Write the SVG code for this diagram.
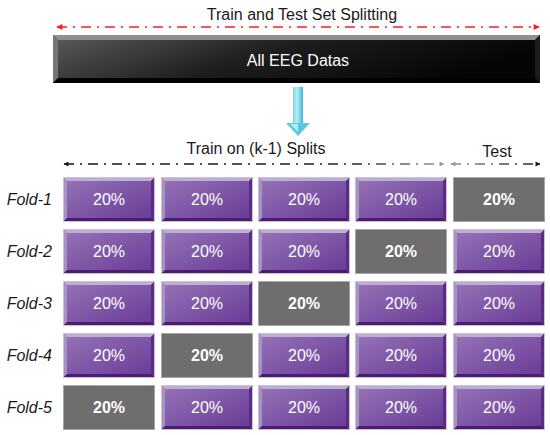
<svg xmlns="http://www.w3.org/2000/svg" xmlns:xlink="http://www.w3.org/1999/xlink" width="550" height="435" viewBox="0 0 550 435">
<style>
  text { font-family: "Liberation Sans", Arial, Helvetica, sans-serif; }
  .title { font-size: 16px; fill: #1a1a1a; text-anchor: middle; }
  .bar-label { font-size: 16px; fill: #ffffff; text-anchor: middle; }
  .fold { font-size: 16px; font-style: italic; fill: #1a1a1a; text-anchor: end; }
  .pct { font-size: 16px; fill: #ffffff; text-anchor: middle; }
  .pct-test { font-size: 16px; font-weight: bold; fill: #ffffff; text-anchor: middle; }
</style>
<defs>
  <linearGradient id="purpleFace" x1="0" y1="0" x2="1" y2="1">
    <stop offset="0" stop-color="#9676b7"/>
    <stop offset="1" stop-color="#673896"/>
  </linearGradient>
  <linearGradient id="barFace" x1="0" y1="0" x2="1" y2="0.3">
    <stop offset="0" stop-color="#5c5c5c"/>
    <stop offset="0.5" stop-color="#1e1e1e"/>
    <stop offset="1" stop-color="#050505"/>
  </linearGradient>
  <linearGradient id="cyanShaft" x1="0" y1="0" x2="1" y2="0">
    <stop offset="0" stop-color="#7fd3e5"/>
    <stop offset="0.4" stop-color="#b9eef7"/>
    <stop offset="1" stop-color="#3fb6d2"/>
  </linearGradient>
  <linearGradient id="trainLine" gradientUnits="userSpaceOnUse" x1="64" y1="0" x2="444" y2="0">
    <stop offset="0" stop-color="#111"/>
    <stop offset="0.75" stop-color="#222"/>
    <stop offset="1" stop-color="#999"/>
  </linearGradient>
  <linearGradient id="testLine" gradientUnits="userSpaceOnUse" x1="451" y1="0" x2="540" y2="0">
    <stop offset="0" stop-color="#999"/>
    <stop offset="1" stop-color="#222"/>
  </linearGradient>
  <marker id="redHead" viewBox="0 0 10 10" refX="9" refY="5" markerWidth="8" markerHeight="6" markerUnits="userSpaceOnUse" orient="auto-start-reverse">
    <path d="M0,0 L10,5 L0,10 z" fill="#ff1a1a"/>
  </marker>
  <marker id="blackHead" viewBox="0 0 10 10" refX="9" refY="5" markerWidth="8" markerHeight="5" markerUnits="userSpaceOnUse" orient="auto-start-reverse">
    <path d="M0,0 L10,5 L0,10 z" fill="#1a1a1a"/>
  </marker>
  <marker id="grayHead" viewBox="0 0 10 10" refX="9" refY="5" markerWidth="8" markerHeight="5" markerUnits="userSpaceOnUse" orient="auto-start-reverse">
    <path d="M0,0 L10,5 L0,10 z" fill="#999"/>
  </marker>
  <g id="purpleCell">
    <rect x="0" y="0" width="92" height="45" fill="url(#purpleFace)"/>
    <polygon points="0,0 92,0 88,4 4,4" fill="#bfaed2"/>
    <polygon points="0,0 4,4 4,41 0,45" fill="#a892c4"/>
    <polygon points="92,0 92,45 88,41 88,4" fill="#5a2c83"/>
    <polygon points="0,45 92,45 88,41 4,41" fill="#4b1d72"/>
    <rect x="0.5" y="0.5" width="91" height="44" fill="none" stroke="#cdbfdc" stroke-width="1"/>
  </g>
  <g id="grayCell">
    <rect x="0" y="0" width="92" height="45" fill="#6e6e6e"/>
    <rect x="0.5" y="0.5" width="91" height="44" fill="none" stroke="#a6a6a6" stroke-width="1"/>
  </g>
</defs>

<rect width="550" height="435" fill="#ffffff"/>

<text class="title" x="302" y="20">Train and Test Set Splitting</text>

<g id="all-eeg-datas">
  <rect x="53" y="35" width="487" height="48" fill="url(#barFace)"/>
  <polygon points="53,35 540,35 535,40 58,40" fill="#8f8f8f"/>
  <polygon points="53,35 58,40 58,78 53,83" fill="#767676"/>
  <polygon points="540,35 540,83 535,78 535,40" fill="#1c1c1c"/>
  <polygon points="53,83 540,83 535,78 58,78" fill="#000000"/>
  <text class="bar-label" x="298" y="66">All EEG Datas</text>
</g>

<g id="connectors">
  <line x1="57" y1="27" x2="539" y2="27" stroke="#ff1a1a" stroke-width="1.5" stroke-dasharray="10 6 2 6" marker-start="url(#redHead)" marker-end="url(#redHead)"/>
  <g id="down-arrow">
    <rect x="293" y="87" width="10" height="37" fill="url(#cyanShaft)"/>
    <polygon points="286,123 310,123 298,136" fill="#5cc7de"/>
    <polygon points="290,124 298,124 298,132" fill="#b2ebf5"/>
  </g>
  <line x1="64" y1="164" x2="444" y2="164" stroke="url(#trainLine)" stroke-width="1.5" stroke-dasharray="10 6 2 6" marker-start="url(#blackHead)" marker-end="url(#grayHead)"/>
  <line x1="451" y1="164" x2="540" y2="164" stroke="url(#testLine)" stroke-width="1.5" stroke-dasharray="10 6 2 6" marker-start="url(#grayHead)" marker-end="url(#blackHead)"/>
</g>

<text class="title" x="256" y="154">Train on (k-1) Splits</text>
<text class="title" x="497" y="157">Test</text>

<text class="fold" x="52" y="205">Fold-1</text>
<text class="fold" x="52" y="257">Fold-2</text>
<text class="fold" x="52" y="309">Fold-3</text>
<text class="fold" x="52" y="361">Fold-4</text>
<text class="fold" x="52" y="413">Fold-5</text>

<!-- Fold 1 -->
<g id="f1c1"><use href="#purpleCell" x="63" y="177"/><text class="pct" x="109" y="205">20%</text></g>
<g id="f1c2"><use href="#purpleCell" x="161" y="177"/><text class="pct" x="207" y="205">20%</text></g>
<g id="f1c3"><use href="#purpleCell" x="258" y="177"/><text class="pct" x="304" y="205">20%</text></g>
<g id="f1c4"><use href="#purpleCell" x="355" y="177"/><text class="pct" x="401" y="205">20%</text></g>
<g id="f1c5"><use href="#grayCell" x="453" y="177"/><text class="pct-test" x="499" y="205">20%</text></g>

<!-- Fold 2 -->
<g id="f2c1"><use href="#purpleCell" x="63" y="229"/><text class="pct" x="109" y="257">20%</text></g>
<g id="f2c2"><use href="#purpleCell" x="161" y="229"/><text class="pct" x="207" y="257">20%</text></g>
<g id="f2c3"><use href="#purpleCell" x="258" y="229"/><text class="pct" x="304" y="257">20%</text></g>
<g id="f2c4"><use href="#grayCell" x="355" y="229"/><text class="pct-test" x="401" y="257">20%</text></g>
<g id="f2c5"><use href="#purpleCell" x="453" y="229"/><text class="pct" x="499" y="257">20%</text></g>

<!-- Fold 3 -->
<g id="f3c1"><use href="#purpleCell" x="63" y="281"/><text class="pct" x="109" y="309">20%</text></g>
<g id="f3c2"><use href="#purpleCell" x="161" y="281"/><text class="pct" x="207" y="309">20%</text></g>
<g id="f3c3"><use href="#grayCell" x="258" y="281"/><text class="pct-test" x="304" y="309">20%</text></g>
<g id="f3c4"><use href="#purpleCell" x="355" y="281"/><text class="pct" x="401" y="309">20%</text></g>
<g id="f3c5"><use href="#purpleCell" x="453" y="281"/><text class="pct" x="499" y="309">20%</text></g>

<!-- Fold 4 -->
<g id="f4c1"><use href="#purpleCell" x="63" y="333"/><text class="pct" x="109" y="361">20%</text></g>
<g id="f4c2"><use href="#grayCell" x="161" y="333"/><text class="pct-test" x="207" y="361">20%</text></g>
<g id="f4c3"><use href="#purpleCell" x="258" y="333"/><text class="pct" x="304" y="361">20%</text></g>
<g id="f4c4"><use href="#purpleCell" x="355" y="333"/><text class="pct" x="401" y="361">20%</text></g>
<g id="f4c5"><use href="#purpleCell" x="453" y="333"/><text class="pct" x="499" y="361">20%</text></g>

<!-- Fold 5 -->
<g id="f5c1"><use href="#grayCell" x="63" y="385"/><text class="pct-test" x="109" y="413">20%</text></g>
<g id="f5c2"><use href="#purpleCell" x="161" y="385"/><text class="pct" x="207" y="413">20%</text></g>
<g id="f5c3"><use href="#purpleCell" x="258" y="385"/><text class="pct" x="304" y="413">20%</text></g>
<g id="f5c4"><use href="#purpleCell" x="355" y="385"/><text class="pct" x="401" y="413">20%</text></g>
<g id="f5c5"><use href="#purpleCell" x="453" y="385"/><text class="pct" x="499" y="413">20%</text></g>
</svg>
